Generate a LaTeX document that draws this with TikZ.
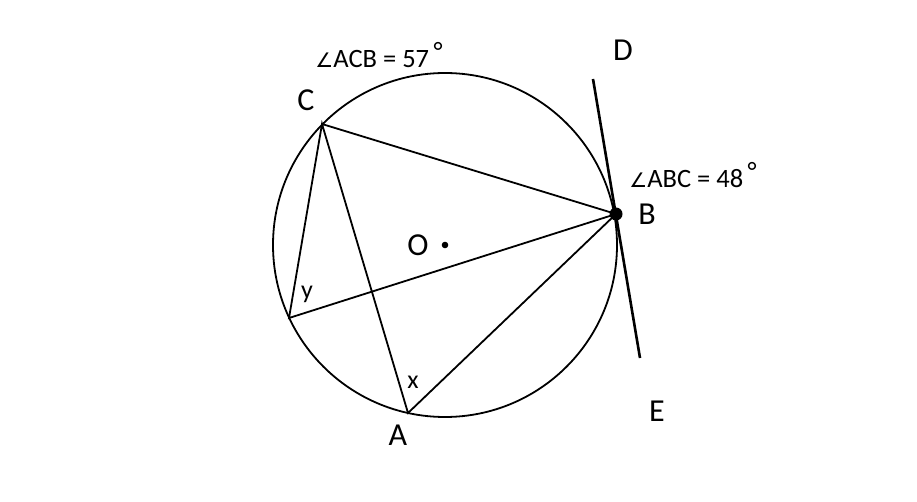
\documentclass[tikz,border=0pt]{standalone}
\usepackage{fontspec}
\setmainfont{Carlito}
\newfontfamily\djv{DejaVu Sans}
\begin{document}
\begin{tikzpicture}[x=1pt,y=-1pt,
  seg/.style={line width=1.8pt},
  tang/.style={line width=2.6pt},
  big/.style={font=\fontsize{32}{36}\selectfont, inner sep=0pt},
  mid/.style={font=\fontsize{26.5}{30}\selectfont, inner sep=0pt},
  small/.style={font=\fontsize{26}{30}\selectfont, inner sep=0pt}]
\useasboundingbox (0,0) rectangle (917,502);
\coordinate (O) at (445,245);
\coordinate (C) at (322,124);
\coordinate (B) at (616,214);
\coordinate (A) at (408,413);
\coordinate (P) at (289,318);
\coordinate (Dt) at (593,79);
\coordinate (Eb) at (640,358);
\draw[seg] (O) circle (172);
\draw[seg] (C) -- (B) -- (A) -- (C) -- (P) -- (B);
\draw[tang] (Dt) -- (Eb);
\fill (B) circle (6.5);
\fill (O) circle (3.3);
\node[big] (lC) at (306,100) {C};
\node[big] (lB) at (647,214) {B};
\node[big] (lA) at (398,435) {A};
\node[big] (lD) at (623,50) {D};
\node[big] (lE) at (657,411) {E};
\node[big] (lO) at (418,245) {O};
\node[small] (ly) at (307,294) {y};
\node[small] (lx) at (413,382) {x};
\node[mid] (a1) at (379,55) {{\djv\fontsize{20}{24}\selectfont ∠}ACB = 57\,\raisebox{0.5ex}{°}};
\node[mid] (a2) at (693,175) {{\djv\fontsize{20}{24}\selectfont ∠}ABC = 48\,\raisebox{0.5ex}{°}};
\end{tikzpicture}
\end{document}
